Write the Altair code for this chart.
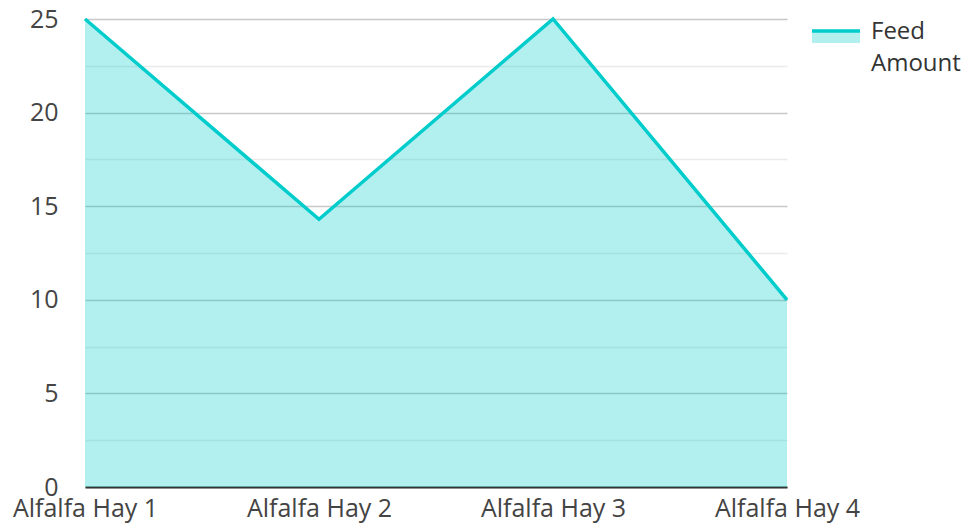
import altair as alt
import pandas as pd

categories = ["Alfalfa Hay 1", "Alfalfa Hay 2", "Alfalfa Hay 3", "Alfalfa Hay 4"]
feed_amount = [25, 14.3, 25, 10]
series_name = ["Feed", "Amount"]
y_ticks = [0, 2.5, 5, 7.5, 10, 12.5, 15, 17.5, 20, 22.5, 25]

df = pd.DataFrame({"category": categories, "value": feed_amount})

FONT = "Open Sans"
LINE = "#00CCCC"
FS = 25

x = alt.X("category:N", sort=categories, title=None,
          scale=alt.Scale(type="point", padding=0),
          axis=alt.Axis(labelAngle=0, ticks=False, tickSize=0, labelPadding=29,
                        labelBaseline="alphabetic", labelFontSize=FS, labelFont=FONT,
                        labelColor="#444444", domainColor="#333333", domainWidth=2,
                        grid=False, labelOverlap=False))
y = alt.Y("value:Q", title=None,
          scale=alt.Scale(domain=[0, 25], nice=False),
          axis=alt.Axis(values=y_ticks, ticks=False, tickSize=0, labelPadding=27,
                        labelFontSize=FS, labelFont=FONT, labelColor="#444444",
                        domain=False,
                        labelExpr="datum.value % 5 === 0 ? datum.label : ''",
                        gridColor={"condition": {"test": "datum.value % 5 === 0", "value": "#c8c8c8"},
                                   "value": "#ebebeb"},
                        gridWidth=1.5))

base = alt.Chart(df)
area = base.mark_area(color=LINE, opacity=0.3).encode(x=x, y=y)
line = base.mark_line(color=LINE, strokeWidth=3.5).encode(x=x, y=y)

leg_df = pd.DataFrame({"k": [0]})
leg_fill = alt.Chart(leg_df).mark_rect(color=LINE, opacity=0.3).encode(
    x=alt.value(727), x2=alt.value(775), y=alt.value(13), y2=alt.value(24))
leg_line = alt.Chart(leg_df).mark_rule(color=LINE, strokeWidth=3.5).encode(
    x=alt.value(727), x2=alt.value(775), y=alt.value(12))
leg_text = alt.Chart(leg_df).mark_text(
    text=series_name, align="left", baseline="alphabetic", font=FONT, fontSize=24,
    lineHeight=32, color="#333333").encode(x=alt.value(786), y=alt.value(20))

chart = alt.layer(area, line, leg_fill, leg_line, leg_text).properties(
    width=702, height=468,
    autosize=alt.AutoSizeParams(type="none"),
    padding={"left": 77, "top": 11, "right": 174, "bottom": 36},
).configure_view(stroke=None)

chart.save("out.html", embed_options={"renderer": "svg", "actions": False})
